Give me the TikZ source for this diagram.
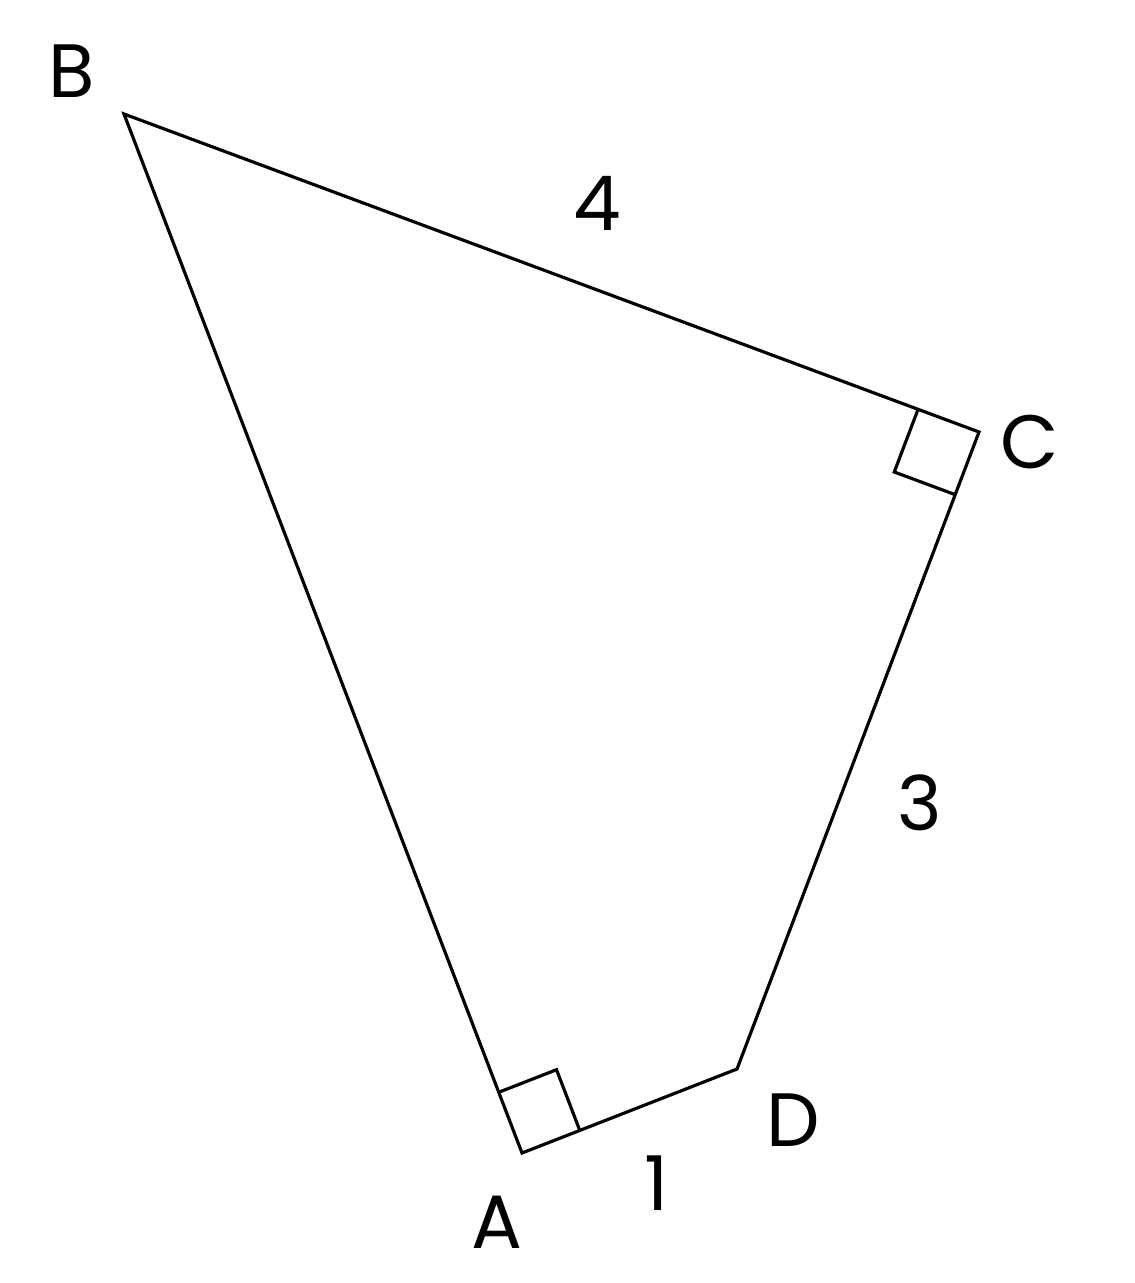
\documentclass[tikz,border=0pt]{standalone}
\usepackage{fontspec}
\setmainfont{Poppins}
\usetikzlibrary{positioning,calc}

\begin{document}
\begin{tikzpicture}[x=0.01cm,y=-0.01cm,line width=0.9pt,
  lbl/.style={font=\fontsize{21.5}{25}\selectfont,inner sep=0pt}]

\useasboundingbox (0,0) rectangle (1134,1283);

\coordinate (B) at (124,114);
\coordinate (C) at (979,432);
\coordinate (D) at (737,1069);
\coordinate (A) at (522,1153);

\draw (A) -- (B) -- (C) -- (D) -- cycle;

% right angles
\coordinate (cb) at ($(C)!0.65cm!(B)$);
\coordinate (cd) at ($(C)!0.67cm!(D)$);
\draw (cb) -- ($(cb)+(cd)-(C)$) -- (cd);
\coordinate (ab) at ($(A)!0.65cm!(B)$);
\coordinate (ad) at ($(A)!0.62cm!(D)$);
\draw (ab) -- ($(ab)+(ad)-(A)$) -- (ad);

\node [lbl] (lB) at (72,71) {B};
\node [lbl] (lC) at (1030,442) {C};
\node [lbl] (lD) at (793,1120) {D};
\node [lbl] (lA) at (497,1222) {A};
\node [lbl] (l4) at (597,203) {4};
\node [lbl] (l3) at (920,803) {3};
\node [lbl] (l1) at (657,1183) {1};
\end{tikzpicture}
\end{document}
